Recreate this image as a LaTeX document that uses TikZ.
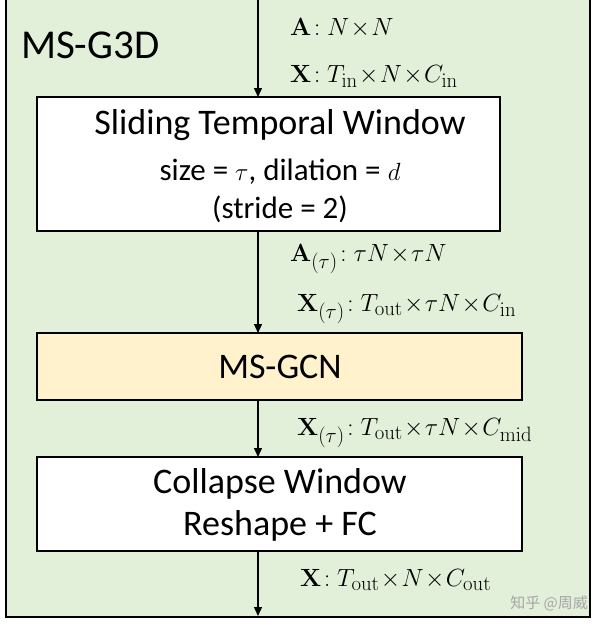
\documentclass[tikz,border=0pt]{standalone}
\usepackage[no-math]{fontspec}
\setmainfont{Carlito}
\newfontfamily\cjk{Noto Sans CJK SC}
\usetikzlibrary{arrows.meta}
\begin{document}
\begin{tikzpicture}[x=1pt,y=-1pt,
  blk/.style={draw=black,line width=2pt,fill=white},
  lbl/.style={anchor=west,font=\fontsize{31}{33}\selectfont,inner sep=0},
  big/.style={font=\fontsize{36}{38}\selectfont,inner sep=0},
  arr/.style={line width=1.3pt,-{Triangle[length=9pt,width=8pt]}}]
\useasboundingbox (0,0) rectangle (600,627);
\fill[white] (0,0) rectangle (600,627);
\draw[line width=2.5pt,fill={rgb,255:red,226;green,239;blue,217}] (6,-2) rectangle (590,617) ;
\node[anchor=west,font=\fontsize{41}{43}\selectfont,inner sep=0] (title) at (21,45) {MS-G3D};
\coordinate (top) at (258,0);
\coordinate (bot) at (258,616);
\draw[blk] (37,97) rectangle (500,231);
\node[big] (sw) at (280,125) {Sliding Temporal Window};
\node[font=\fontsize{31}{33}\selectfont,inner sep=0] (sw2) at (280,172) {size = $\tau$, dilation = $d$};
\node[font=\fontsize{31}{33}\selectfont,inner sep=0] (sw3) at (280,209) {(stride = 2)};
\draw[blk,fill={rgb,255:red,255;green,242;blue,204}] (37,333) rectangle (522,400);
\node[big] (gcn) at (280,367) {MS-GCN};
\draw[blk] (37,457) rectangle (522,551);
\node[big] (cw) at (280,484) {Collapse Window};
\node[big] (cw2) at (280,526) {Reshape + FC};
\coordinate (swt) at (258,97); \coordinate (swb) at (258,231);
\coordinate (gt) at (258,333); \coordinate (gb) at (258,400);
\coordinate (ct) at (258,457); \coordinate (cb) at (258,551);
\draw[arr] (top) -- (swt);
\draw[arr] (swb) -- (gt);
\draw[arr] (gb) -- (ct);
\draw[arr] (cb) -- (bot);
\node[lbl] (l1) at (290,28) {$\mathbf{A}\!: N\!\times\! N$};
\node[lbl] (l2) at (290,76) {$\mathbf{X}\!: T_{\mathrm{in}}\!\times\! N\!\times\! C_{\mathrm{in}}$};
\node[lbl] (l3) at (290,259) {$\mathbf{A}_{(\tau)}\!: \tau N\!\times\!\tau N$};
\node[lbl] (l4) at (297,309) {$\mathbf{X}_{(\tau)}\!: T_{\mathrm{out}}\!\times\!\tau N\!\times\! C_{\mathrm{in}}$};
\node[lbl] (l5) at (297,433) {$\mathbf{X}_{(\tau)}\!: T_{\mathrm{out}}\!\times\!\tau N\!\times\! C_{\mathrm{mid}}$};
\node[lbl] (l6) at (300,580) {$\mathbf{X}\!: T_{\mathrm{out}}\!\times\! N\!\times\! C_{\mathrm{out}}$};
\node[anchor=east,font=\cjk\fontsize{15}{17}\selectfont,text=black!35,inner sep=0] (wm) at (588,603) {知乎 @周威};
\end{tikzpicture}
\end{document}
